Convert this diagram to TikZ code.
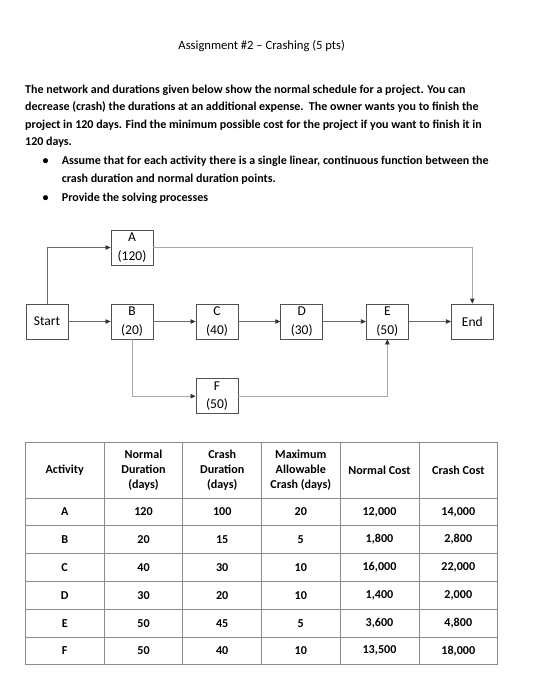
\documentclass[tikz,border=0pt]{standalone}
\usepackage{fontspec}
\setmainfont{Carlito}
\usetikzlibrary{arrows.meta}
\definecolor{boxline}{HTML}{505050}
\definecolor{darkcon}{HTML}{6A6A6A}
\definecolor{lightcon}{HTML}{A8A8A8}
\definecolor{tabline}{HTML}{8C8C8C}
\definecolor{tipcol}{HTML}{303030}
\tikzset{
  actbox/.style={draw=boxline, line width=0.8pt, minimum width=42pt, minimum height=35pt, inner sep=0pt, align=center, font=\fontsize{13.5}{18.5}\selectfont},
  con/.style={draw=darkcon, line width=0.7pt, -{Triangle[length=5pt,width=4.4pt,color=tipcol,fill=tipcol]}},
  lcon/.style={draw=lightcon, line width=0.8pt, -{Triangle[length=5pt,width=4.4pt,fill=tipcol,color=tipcol]}},
  para/.style={anchor=base west, inner sep=0pt, font=\fontsize{12}{14}\selectfont\bfseries},
  cell/.style={align=center, inner sep=0pt, font=\fontsize{12.1}{15}\selectfont\bfseries},
  tl/.style={draw=tabline, line width=0.9pt}
}
\begin{document}
\begin{tikzpicture}[x=1pt,y=-1pt]
\useasboundingbox[fill=white] (0,0) rectangle (553,700);
% title
\node[anchor=base, inner sep=0pt, font=\fontsize{12.6}{15}\selectfont] (title) at (261.7,50) {Assignment \#2 – Crashing (5 pts)};
% paragraph
\node[para] (p1) at (25,93.3) {The network and durations given below show the normal schedule for a project. You can};
\node[para] (p2) at (25,111) {decrease (crash) the durations at an additional expense.\ \ The owner wants you to finish the};
\node[para] (p3) at (25,128.3) {project in 120 days. Find the minimum possible cost for the project if you want to finish it in};
\node[para] (p4) at (25,145.7) {120 days.};
\node[para] (b1) at (42.5,165) {•};
\node[para] (q1) at (61.7,165) {Assume that for each activity there is a single linear, continuous function between the};
\node[para] (q2) at (61.7,182.3) {crash duration and normal duration points.};
\node[para] (b2) at (42.5,201.7) {•};
\node[para] (q3) at (61.7,201.7) {Provide the solving processes};
% network
\node[actbox] (S) at (47,321.5) {Start};
\node[actbox] (A) at (132,247.5) {A\\(120)};
\node[actbox] (B) at (132,321.5) {B\\(20)};
\node[actbox] (C) at (217,321.5) {C\\(40)};
\node[actbox] (D) at (301.7,321.5) {D\\(30)};
\node[actbox] (E) at (387.3,321.5) {E\\(50)};
\node[actbox] (End) at (472.3,321.5) {End};
\node[actbox] (F) at (217,396.2) {F\\(50)};
\draw[con] (S.north) |- (A.west);
\draw[lcon] (A.east) -| (End.north);
\draw[con] (S) -- (B);
\draw[con] (B) -- (C);
\draw[con] (C) -- (D);
\draw[con] (D) -- (E);
\draw[con] (E) -- (End);
\draw[lcon] (B.south) |- (F.west);
\draw[lcon] (F.east) -| (E.south);
% table
\draw[tl] (25,442.3) rectangle (497.7,664.3);
\foreach \yy in {498.3,525.7,553.3,581,609.3,637.3} \draw[tl] (25,\yy) -- (497.7,\yy);
\foreach \xx in {104.3,182.7,261.7,340,419} \draw[tl] (\xx,442.3) -- (\xx,664.3);
\node[cell] (h1) at (64.7,470.3) {Activity};
\node[cell] (h2) at (143.5,470.3) {Normal\\Duration\\(days)};
\node[cell] (h3) at (222.2,470.3) {Crash\\Duration\\(days)};
\node[cell] (h4) at (300.8,470.3) {Maximum\\Allowable\\Crash (days)};
\node[cell] (h5) at (379.5,470.3) {Normal Cost};
\node[cell] (h6) at (458.3,470.3) {Crash Cost};
\foreach \yy/\a/\b/\c/\d/\e/\f [count=\i] in {
  512/A/120/100/20/{12,000}/{14,000},
  539.5/B/20/15/5/{1,800}/{2,800},
  567.2/C/40/30/10/{16,000}/{22,000},
  595.2/D/30/20/10/{1,400}/{2,000},
  623.3/E/50/45/5/{3,600}/{4,800},
  650.8/F/50/40/10/{13,500}/{18,000}}{
  \node[cell] (r\i c1) at (64.7,\yy) {\a};
  \node[cell] (r\i c2) at (143.5,\yy) {\b};
  \node[cell] (r\i c3) at (222.2,\yy) {\c};
  \node[cell] (r\i c4) at (300.8,\yy) {\d};
  \node[cell] (r\i c5) at (379.5,\yy) {\e};
  \node[cell] (r\i c6) at (458.3,\yy) {\f};
}
\end{tikzpicture}
\end{document}
